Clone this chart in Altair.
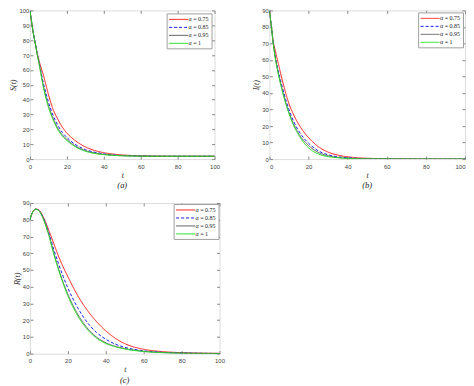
import altair as alt
import pandas as pd

t = [0, 1, 2, 3, 4, 5, 7.5, 10, 12.5, 15, 17.5, 20, 25, 30, 35, 40, 45, 50, 60, 70, 80, 90, 100]
alphas = ["α = 0.75", "α = 0.85", "α = 0.95", "α = 1"]

S_075 = [100, 91, 83.5, 77, 71, 66, 55.5, 43.5, 33.5, 27, 21.5, 17.5, 12, 8.2, 5.8, 4.3, 3.4, 2.8, 2.2, 2, 1.9, 1.9, 1.9]
S_085 = [100, 91.5, 83.5, 77, 70.5, 64.5, 50, 38.5, 29.5, 23, 18, 14.5, 9.5, 6.4, 4.6, 3.5, 2.8, 2.4, 2.1, 1.9, 1.9, 1.9, 1.9]
S_095 = [100, 91.5, 83.5, 77, 70, 64, 48, 36, 27.5, 21, 16.3, 13.2, 8.5, 5.7, 4.1, 3.2, 2.6, 2.3, 2, 1.9, 1.9, 1.9, 1.9]
S_100 = [100, 91.5, 83.5, 77, 70, 63.5, 47, 35, 26.5, 20, 15.5, 12.5, 8, 5.3, 3.8, 3, 2.5, 2.2, 2, 1.9, 1.9, 1.9, 1.9]

I_075 = [90, 80, 71, 65.5, 60.5, 55.5, 43.5, 33.5, 26.5, 21, 16.5, 13, 7.5, 4.2, 2.4, 1.4, 0.8, 0.5, 0.2, 0.1, 0.05, 0, 0]
I_085 = [90, 80, 70, 62.5, 56, 51, 39.5, 30, 22.5, 17, 12.8, 9.6, 5, 2.6, 1.4, 0.8, 0.45, 0.25, 0.1, 0.05, 0, 0, 0]
I_095 = [90, 80, 69.5, 61.5, 55, 49.5, 37.8, 28.3, 20.8, 15.3, 11.2, 8.2, 4, 2, 1, 0.5, 0.25, 0.12, 0.05, 0, 0, 0, 0]
I_100 = [90, 80, 69.5, 61, 54.5, 49, 37, 27.5, 20, 14.5, 10, 6.8, 3.1, 1.5, 0.8, 0.4, 0.2, 0.1, 0.05, 0, 0, 0, 0]

R_075 = [80, 83.5, 85.5, 86.3, 86.2, 85.5, 80.5, 73.5, 66, 58.4, 51.8, 46, 35, 26.3, 19.3, 13.6, 9.2, 6, 2.6, 1.2, 0.6, 0.3, 0.2]
R_085 = [80, 83.5, 85.5, 86.3, 86.1, 85.2, 80, 72, 62.5, 54, 46.2, 39.2, 27.8, 19, 12.8, 8.6, 5.7, 3.8, 1.7, 0.8, 0.4, 0.2, 0.1]
R_095 = [80, 83.5, 85.5, 86.3, 86, 85, 79.5, 71, 60.5, 51, 42.6, 35.5, 24, 15.6, 10, 6.5, 4.4, 3, 1.4, 0.65, 0.3, 0.15, 0.1]
R_100 = [80, 83.5, 85.5, 86.3, 86, 85, 79, 70.5, 59.7, 50.4, 42, 34.5, 23, 14.8, 9.4, 6.1, 4.1, 2.8, 1.3, 0.6, 0.3, 0.15, 0.1]

colors = ["#ff1a1a", "#1a1aff", "#5a5a5a", "#22e022"]
dashes = [[1, 0], [3, 2], [1, 0], [1, 0]]


def frame(series):
    rows = []
    for a, vals in zip(alphas, series):
        for tt, v in zip(t, vals):
            rows.append({"t": tt, "v": v, "a": a})
    return pd.DataFrame(rows)


TICK_FONT = "Liberation Sans"
SERIF = "Liberation Serif"
GREY = "#a0a0a0"


def panel(df, ytitle, ymax, yvals, caption, w, h, loff, flush=False):
    xvals = [0, 20, 40, 60, 80, 100]
    xs = alt.Scale(domain=[0, 100], nice=False, zero=False)
    ys = alt.Scale(domain=[0, ymax], nice=False)
    legend = alt.Legend(
        title=None, orient="top-right", offset=loff, fillColor="white",
        strokeColor=GREY, padding=2, symbolType="M-1,0H4.4", symbolSize=49,
        symbolStrokeWidth=1, symbolFillColor="transparent",
        labelFont=SERIF, labelFontSize=6, labelColor="#222",
        rowPadding=1, labelOffset=12,
    )
    ax_common = dict(domain=False, grid=False, tickSize=3, offset=-3, tickColor="#888",
                     minExtent=0, labelFont=TICK_FONT, labelFontSize=6, labelColor="#444",
                     titleFont=SERIF, titleFontStyle="italic", titleFontWeight="normal",
                     titleFontSize=8, titleColor="#333")
    mirror_common = dict(labels=False, title=None, domain=False, grid=False, tickSize=3,
                         offset=-3, tickColor="#888", minExtent=0)
    lines = alt.Chart(df).mark_line(strokeWidth=1, interpolate="monotone", clip=True).encode(
        x=alt.X("t:Q", scale=xs, axis=alt.Axis(title="t", values=xvals, labelPadding=4,
                                               titlePadding=2, labelFlush=flush, **ax_common)),
        y=alt.Y("v:Q", scale=ys, axis=alt.Axis(title=ytitle, values=yvals, labelPadding=1,
                                               titlePadding=1, **ax_common)),
        color=alt.Color("a:N", scale=alt.Scale(domain=alphas, range=colors), legend=legend),
        strokeDash=alt.StrokeDash("a:N", scale=alt.Scale(domain=alphas, range=dashes), legend=legend),
    )
    mirror = alt.Chart(df).mark_point(opacity=0, size=1).encode(
        x=alt.X("t:Q", scale=xs, axis=alt.Axis(orient="top", values=xvals, **mirror_common)),
        y=alt.Y("v:Q", scale=ys, axis=alt.Axis(orient="right", values=yvals, **mirror_common)),
    )
    return alt.layer(lines, mirror).resolve_scale(x="independent", y="independent").properties(
        width=w, height=h,
        title=alt.TitleParams(caption, orient="bottom", font=SERIF, fontStyle="italic",
                              fontWeight="normal", fontSize=8.5, color="#222", offset=2),
    )


pa = panel(frame([S_075, S_085, S_095, S_100]), "S(t)", 100, list(range(0, 101, 10)), "(a)", 185, 149, 3)
pb = panel(frame([I_075, I_085, I_095, I_100]), "I(t)", 90, list(range(0, 91, 10)), "(b)", 196, 149, 2, flush=True)
pc = panel(frame([R_075, R_085, R_095, R_100]), "R(t)", 90, list(range(0, 91, 10)), "(c)", 190, 151, 1)

top = alt.hconcat(pa, pb, spacing=31).resolve_scale(color="independent", strokeDash="independent").resolve_legend(
    color="independent", strokeDash="independent")
chart = alt.vconcat(top, pc, spacing=9).resolve_scale(color="independent", strokeDash="independent").resolve_legend(
    color="independent", strokeDash="independent").properties(
    padding={"left": 1, "top": -2, "right": 0, "bottom": 0}
).configure_view(stroke=GREY, strokeWidth=1).configure(background="white")

chart.save("out.html", embed_options={"renderer": "svg", "actions": False})
